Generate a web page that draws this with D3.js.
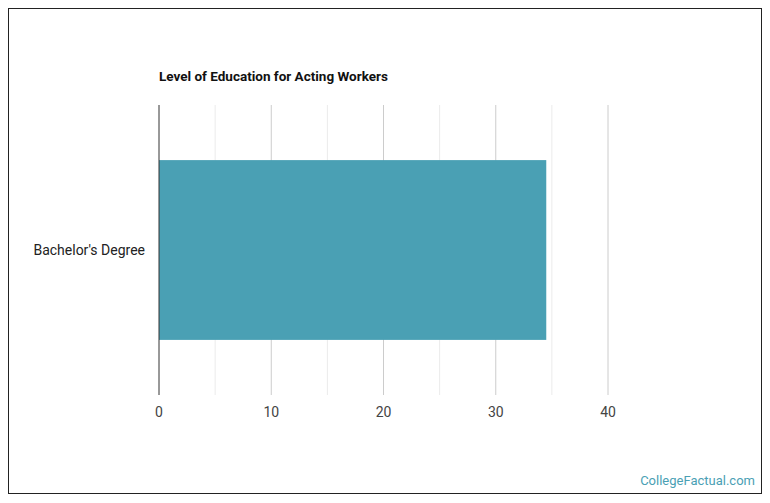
<!DOCTYPE html>
<html><head><meta charset="utf-8">
<script src="https://cdn.jsdelivr.net/npm/d3@7"></script>
<style>body{margin:0;background:#fff}svg{font-family:Roboto,sans-serif}</style>
</head><body>
<svg width="770" height="503"></svg>
<script>
// chart data
const categories = ["Bachelor's Degree"];
const values = [34.5];
const xTicks = [0, 10, 20, 30, 40];
const minorTicks = [5, 15, 25, 35];

const svg = d3.select("svg");
svg.append("rect").attr("x", 8.5).attr("y", 8.5).attr("width", 753).attr("height", 485)
  .attr("fill", "#fff").attr("stroke", "#222");

const x = d3.scaleLinear().domain([0, 40]).range([159, 608]);
const y = d3.scaleBand().domain(categories).range([105, 395]).paddingInner(0.38).paddingOuter(0.19);

svg.append("text").attr("x", 159).attr("y", 81).attr("font-size", 13.5).attr("font-weight", "bold")
  .attr("fill", "#111").text("Level of Education for Acting Workers");

// gridlines
svg.selectAll(".minor").data(minorTicks).join("line")
  .attr("x1", d => x(d)).attr("x2", d => x(d)).attr("y1", 105).attr("y2", 395)
  .attr("stroke", "#ebebeb");
svg.selectAll(".major").data(xTicks.slice(1)).join("line")
  .attr("x1", d => x(d)).attr("x2", d => x(d)).attr("y1", 105).attr("y2", 395)
  .attr("stroke", "#cccccc");

svg.selectAll(".bar").data(values).join("rect")
  .attr("x", x(0)).attr("y", (d, i) => y(categories[i]))
  .attr("width", d => x(d) - x(0)).attr("height", y.bandwidth())
  .attr("fill", "#4aa0b4");

// baseline
svg.append("line").attr("x1", x(0)).attr("x2", x(0)).attr("y1", 105).attr("y2", 395).attr("stroke", "#333");

svg.selectAll(".xt").data(xTicks).join("text")
  .attr("x", d => x(d)).attr("y", 417).attr("text-anchor", "middle")
  .attr("font-size", 14).attr("fill", "#444").text(d => d);

svg.selectAll(".cat").data(categories).join("text")
  .attr("x", 145).attr("y", d => y(d) + y.bandwidth() / 2 + 5).attr("text-anchor", "end")
  .attr("font-size", 14).attr("fill", "#222").text(d => d);

svg.append("text").attr("x", 755).attr("y", 485).attr("text-anchor", "end")
  .attr("font-size", 13).attr("fill", "#4aa0b4").text("CollegeFactual.com");
</script>
</body></html>
